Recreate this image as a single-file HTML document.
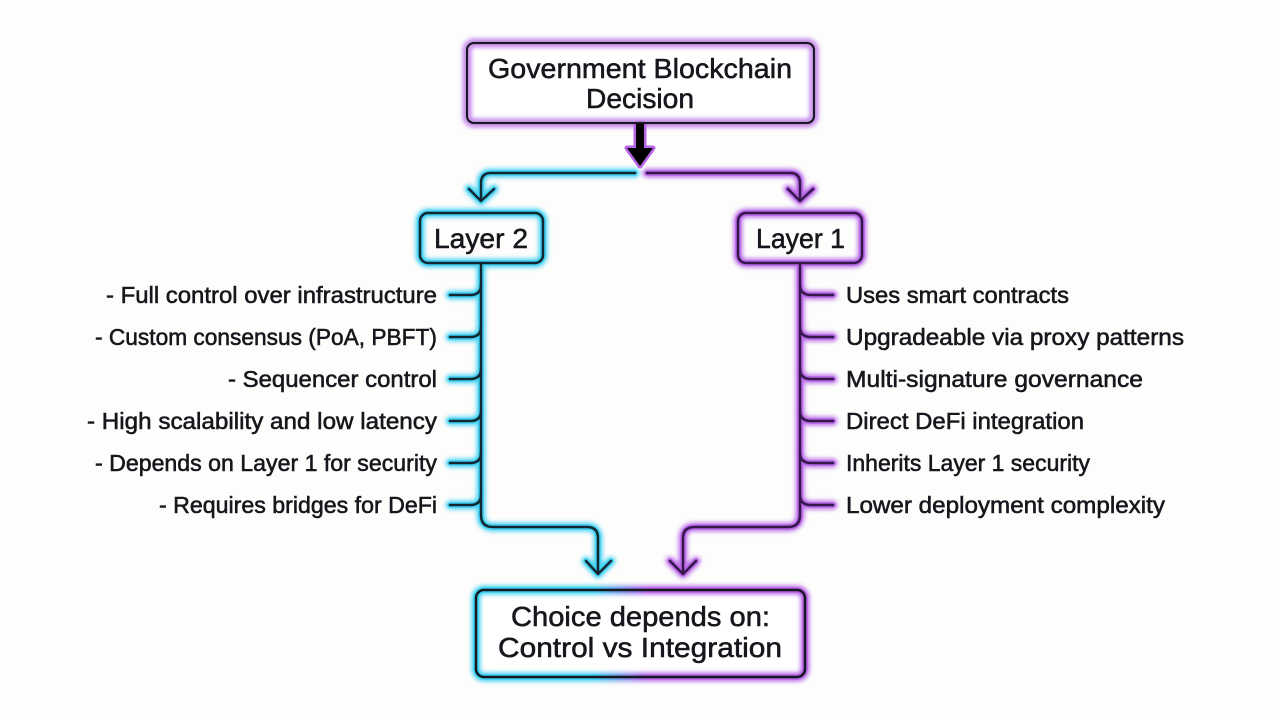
<!DOCTYPE html>
<html><head><meta charset="utf-8"><style>
html,body{margin:0;padding:0;background:#fdfdfc;width:1280px;height:720px;overflow:hidden}
svg{display:block}
text{font-family:"Liberation Sans",sans-serif;fill:#16161c;stroke:#16161c;stroke-width:.55;}
.t{font-size:28px}.l{font-size:23px}
.core{fill:none;stroke:#142630;stroke-width:2.5;stroke-linecap:round;stroke-linejoin:round}
.pc{stroke:#35184a}
.c,.p{fill:none;stroke-linecap:round;stroke-linejoin:round}
.c{stroke:#35cdf0;stroke-width:9}.p{stroke:#b45de6;stroke-width:9}
.gl{filter:url(#b)}
</style></head><body>
<svg width="1280" height="720" viewBox="0 0 1280 720" xmlns="http://www.w3.org/2000/svg">
<defs>
<filter id="b" x="-20%" y="-20%" width="140%" height="140%"><feGaussianBlur stdDeviation="2.2"/></filter>
<linearGradient id="g" gradientUnits="userSpaceOnUse" x1="476" y1="0" x2="805" y2="0">
<stop offset="0.36" stop-color="#35cdf0"/><stop offset="0.52" stop-color="#b45de6"/>
</linearGradient>
<g id="cp"><path d="M635 173H491Q481 173 481 183V200M469 189L481 201L494 189"/>
<rect x="420" y="213" width="123" height="50" rx="8"/>
<path d="M481 263V515Q481 527 493 527H587Q598 527 598 538V574M586 561L598 574L611 561"/>
<path d="M450 295H470Q481 295 481 285M450 337H470Q481 337 481 327M450 379H470Q481 379 481 369M450 421H470Q481 421 481 411M450 463H470Q481 463 481 453M450 505H470Q481 505 481 495"/></g>
<g id="pp"><path d="M647 173H790Q800 173 800 183V200M788 189L800 201L813 189"/>
<rect x="738" y="213" width="124" height="50" rx="8"/>
<path d="M800 263V515Q800 527 788 527H695Q683 527 683 538V574M670 561L683 574L696 561"/>
<path d="M833 295H811Q800 295 800 285M833 337H811Q800 337 800 327M833 379H811Q800 379 800 369M833 421H811Q800 421 800 411M833 463H811Q800 463 800 453M833 505H811Q800 505 800 495"/></g>
</defs>
<rect width="1280" height="720" fill="#fdfdfc"/>
<rect x="467" y="43" width="347" height="80" rx="7" fill="#fff"/>
<rect x="476" y="590" width="329" height="87" rx="8" fill="#fff"/>

<!-- glows -->
<g class="c"><use href="#cp" class="gl" opacity=".85"/><use href="#cp" stroke-width="5.5" opacity=".8"/></g>
<g class="p"><use href="#pp" class="gl" opacity=".85"/><use href="#pp" stroke-width="5.5" opacity=".8"/></g>

<g fill="none" stroke="#b45de6" stroke-width="9" stroke-linejoin="round">
<rect x="467" y="43" width="347" height="80" rx="7" class="gl" opacity=".75"/>
<rect x="467" y="43" width="347" height="80" rx="7" stroke="#cda0ee" stroke-width="5"/>
<path d="M636 124V148H627L640 166L653 148H644V124Z" stroke="#b765e6" stroke-width="5"/>
</g>
<g fill="none" stroke="url(#g)" stroke-width="9">
<rect x="476" y="590" width="329" height="87" rx="8" class="gl" opacity=".9"/>
<rect x="476" y="590" width="329" height="87" rx="8" stroke-width="5.5" opacity=".85"/>
</g>

<!-- cores -->
<use href="#cp" class="core"/>
<use href="#pp" class="core pc"/>
<rect x="467" y="43" width="347" height="80" rx="7" fill="none" stroke="#1c1826" stroke-width="2.2"/>
<path d="M636 124V148H627L640 166L653 148H644V124Z" fill="#000"/>
<rect x="476" y="590" width="329" height="87" rx="8" fill="none" stroke="#15181f" stroke-width="2.5"/>

<!-- text -->
<text class="t" x="488" y="78" textLength="304" lengthAdjust="spacingAndGlyphs">Government Blockchain</text>
<text class="t" x="586" y="108" textLength="108" lengthAdjust="spacingAndGlyphs">Decision</text>
<text class="t" x="434" y="248" textLength="94" lengthAdjust="spacingAndGlyphs">Layer 2</text>
<text class="t" x="756" y="248" textLength="89" lengthAdjust="spacingAndGlyphs">Layer 1</text>
<text class="t" x="511" y="626" textLength="259" lengthAdjust="spacingAndGlyphs">Choice depends on:</text>
<text class="t" x="498" y="657" textLength="284" lengthAdjust="spacingAndGlyphs">Control vs Integration</text>

<text class="l" x="106" y="303" textLength="331" lengthAdjust="spacingAndGlyphs">- Full control over infrastructure</text>
<text class="l" x="95" y="345" textLength="342" lengthAdjust="spacingAndGlyphs">- Custom consensus (PoA, PBFT)</text>
<text class="l" x="228" y="387" textLength="209" lengthAdjust="spacingAndGlyphs">- Sequencer control</text>
<text class="l" x="87" y="429" textLength="350" lengthAdjust="spacingAndGlyphs">- High scalability and low latency</text>
<text class="l" x="95" y="471" textLength="342" lengthAdjust="spacingAndGlyphs">- Depends on Layer 1 for security</text>
<text class="l" x="159" y="513" textLength="278" lengthAdjust="spacingAndGlyphs">- Requires bridges for DeFi</text>

<text class="l" x="846" y="303" textLength="223" lengthAdjust="spacingAndGlyphs">Uses smart contracts</text>
<text class="l" x="846" y="345" textLength="338" lengthAdjust="spacingAndGlyphs">Upgradeable via proxy patterns</text>
<text class="l" x="846" y="387" textLength="297" lengthAdjust="spacingAndGlyphs">Multi-signature governance</text>
<text class="l" x="846" y="429" textLength="238" lengthAdjust="spacingAndGlyphs">Direct DeFi integration</text>
<text class="l" x="846" y="471" textLength="244" lengthAdjust="spacingAndGlyphs">Inherits Layer 1 security</text>
<text class="l" x="846" y="513" textLength="319" lengthAdjust="spacingAndGlyphs">Lower deployment complexity</text>
</svg>
</body></html>
